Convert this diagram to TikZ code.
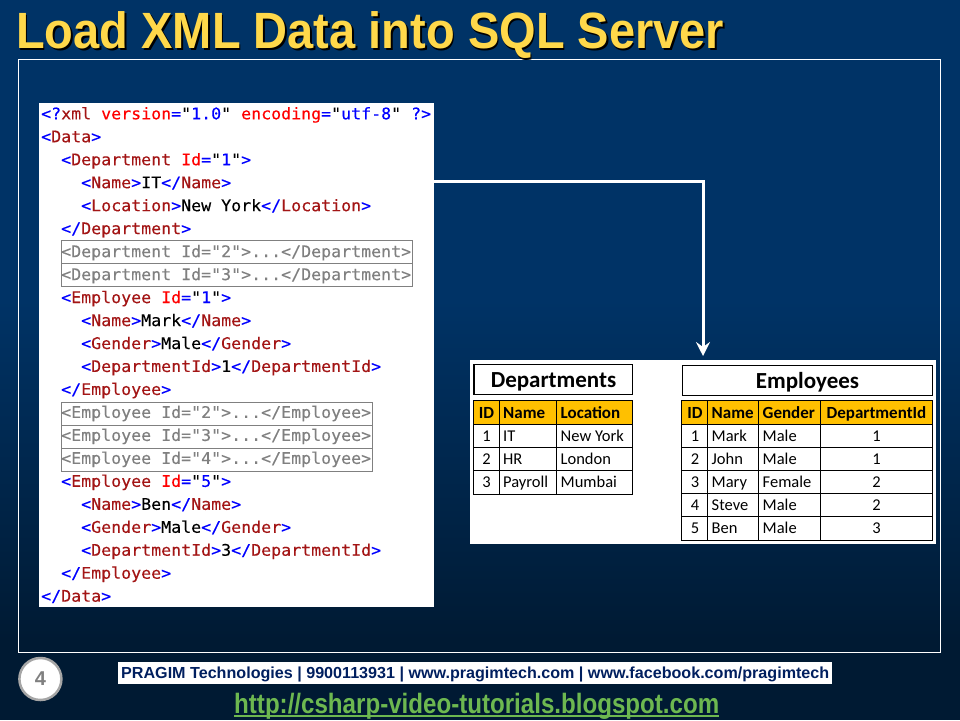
\documentclass[tikz,border=0pt]{standalone}
\usepackage{fontspec}
\usepackage{graphicx}
\usetikzlibrary{arrows.meta}
\setmainfont{Carlito}
\newfontfamily\xmlf[FakeStretch=1.038,FakeBold=0.25]{DejaVu Sans Mono}
\newfontfamily\arialb{Liberation Sans}[BoldFont={Liberation Sans Bold}]
\definecolor{bgtop}{HTML}{003366}
\definecolor{bgbot}{HTML}{001A33}
\definecolor{xbl}{HTML}{0000FF}
\definecolor{xbr}{HTML}{A31515}
\definecolor{xre}{HTML}{FF0000}
\definecolor{xgr}{HTML}{808080}
\definecolor{hdr}{HTML}{FFC000}
\definecolor{titley}{HTML}{FFD84A}
\definecolor{urlg}{HTML}{6DB850}
\definecolor{footb}{HTML}{001F5F}
\newcommand{\TG}[1]{\textcolor{xbl}{<}\textcolor{xbr}{#1}\textcolor{xbl}{>}}
\newcommand{\CT}[1]{\textcolor{xbl}{</}\textcolor{xbr}{#1}\textcolor{xbl}{>}}
\newcommand{\ID}[2]{\textcolor{xbl}{<}\textcolor{xbr}{#1} \textcolor{xre}{Id}\textcolor{xbl}{=}"\textcolor{xbl}{#2}"\textcolor{xbl}{>}}
\tikzset{
  xmlline/.style={anchor=base west,inner sep=0pt,font=\xmlf\fontsize{16}{16}\selectfont,text=black},
  xmlgray/.style={xmlline,text=xgr},
  graybox/.style={draw=xgr,line width=1pt},
  tcell/.style={anchor=base west,inner sep=0pt,font=\fontsize{16.5}{17}\selectfont,text=black},
  tcellc/.style={tcell,anchor=base},
  thead/.style={tcell,font=\fontsize{17}{18}\selectfont\bfseries},
  theadc/.style={thead,anchor=base},
  ttitle/.style={anchor=base,inner sep=0pt,font=\fontsize{23}{25}\selectfont\bfseries,text=black},
  grid/.style={draw=black,line width=1.2pt},
  conn/.style={draw=white,line width=3pt,-{Stealth[length=14pt,width=14pt,inset=5pt]}},
}
\begin{document}
\begin{tikzpicture}[x=1pt,y=-1pt]
\useasboundingbox (0,0) rectangle (960,720);
% background
\fill[bgtop] (0,0) rectangle (960,300);
\shade[top color=bgtop,bottom color=bgbot] (0,300) rectangle (960,640);
\fill[bgbot] (0,640) rectangle (960,720);
% frame
\draw[white,line width=1pt] (18.5,59.5) rectangle (940.5,652.5);
% title
\node[anchor=base west,inner sep=0pt,text=black,font=\arialb\fontsize{51}{52}\selectfont\bfseries] (titleshadow) at (17.5,50) {\resizebox{708pt}{\height}{Load XML Data into SQL Server}};
\node[anchor=base west,inner sep=0pt,text=titley,font=\arialb\fontsize{51}{52}\selectfont\bfseries] (title) at (16,48.5) {\resizebox{708pt}{\height}{Load XML Data into SQL Server}};
% xml panel
\node[fill=white,inner sep=0pt,minimum width=395pt,minimum height=504pt,anchor=north west] (xml) at (39,103) {};
\newcommand{\ly}[1]{119.3+22.97*(#1-1)}
\node[xmlline] (l1) at (41,{\ly{1}}) {\textcolor{xbl}{<?}\textcolor{xbr}{xml} \textcolor{xre}{version}\textcolor{xbl}{=}"\textcolor{xbl}{1.0}" \textcolor{xre}{encoding}\textcolor{xbl}{=}"\textcolor{xbl}{utf-8}" \textcolor{xbl}{?>}};
\node[xmlline] (l2) at (41,{\ly{2}}) {\TG{Data}};
\node[xmlline] (l3) at (61,{\ly{3}}) {\ID{Department}{1}};
\node[xmlline] (l4) at (81,{\ly{4}}) {\TG{Name}IT\CT{Name}};
\node[xmlline] (l5) at (81,{\ly{5}}) {\TG{Location}New York\CT{Location}};
\node[xmlline] (l6) at (61,{\ly{6}}) {\CT{Department}};
\node[xmlgray] (l7) at (61,{\ly{7}}) {<Department Id="2">...</Department>};
\node[xmlgray] (l8) at (61,{\ly{8}}) {<Department Id="3">...</Department>};
\node[xmlline] (l9) at (61,{\ly{9}}) {\ID{Employee}{1}};
\node[xmlline] (l10) at (81,{\ly{10}}) {\TG{Name}Mark\CT{Name}};
\node[xmlline] (l11) at (81,{\ly{11}}) {\TG{Gender}Male\CT{Gender}};
\node[xmlline] (l12) at (81,{\ly{12}}) {\TG{DepartmentId}1\CT{DepartmentId}};
\node[xmlline] (l13) at (61,{\ly{13}}) {\CT{Employee}};
\node[xmlgray] (l14) at (61,{\ly{14}}) {<Employee Id="2">...</Employee>};
\node[xmlgray] (l15) at (61,{\ly{15}}) {<Employee Id="3">...</Employee>};
\node[xmlgray] (l16) at (61,{\ly{16}}) {<Employee Id="4">...</Employee>};
\node[xmlline] (l17) at (61,{\ly{17}}) {\ID{Employee}{5}};
\node[xmlline] (l18) at (81,{\ly{18}}) {\TG{Name}Ben\CT{Name}};
\node[xmlline] (l19) at (81,{\ly{19}}) {\TG{Gender}Male\CT{Gender}};
\node[xmlline] (l20) at (81,{\ly{20}}) {\TG{DepartmentId}3\CT{DepartmentId}};
\node[xmlline] (l21) at (61,{\ly{21}}) {\CT{Employee}};
\node[xmlline] (l22) at (41,{\ly{22}}) {\CT{Data}};
\draw[graybox] (61.3,240.5) rectangle (412.3,286.5) (61.3,263.5) -- (412.3,263.5);
\draw[graybox] (61.3,402.5) rectangle (372.3,471) (61.3,425.3) -- (372.3,425.3) (61.3,448.2) -- (372.3,448.2);
% tables panel
\node[fill=white,inner sep=0pt,minimum width=466pt,minimum height=184pt,anchor=north west] (tables) at (470,360) {};
% departments
\draw[grid] (474,364.5) rectangle (632.5,394.5);
\node[ttitle] (dtitle) at (553.5,387) {Departments};
\fill[hdr] (473.5,400.7) rectangle (632.5,424.3);
\draw[grid] (473.5,400.7) rectangle (632.5,494.3);
\foreach \yy in {424.3,447.3,470.3} \draw[grid] (473.5,\yy) -- (632.5,\yy);
\foreach \xx in {499.3,556.3} \draw[grid] (\xx,400.7) -- (\xx,494.3);
\node[theadc] (dh1) at (486.5,418.5) {ID};
\node[thead] (dh2) at (503,418.5) {Name};
\node[thead] (dh3) at (560.5,418.5) {Location};
\foreach \n/\yy/\a/\b/\c in {1/441.8/1/IT/New York,2/464.8/2/HR/London,3/487.8/3/Payroll/Mumbai}{
  \node[tcellc] (da\n) at (486.5,\yy) {\a};
  \node[tcell] (db\n) at (503,\yy) {\b};
  \node[tcell] (dc\n) at (560.5,\yy) {\c};
}
% employees
\draw[grid] (682.3,365.5) rectangle (932.7,395.5);
\node[ttitle] (etitle) at (807.5,388) {Employees};
\fill[hdr] (681.7,400.7) rectangle (932.7,424.3);
\draw[grid] (681.7,400.7) rectangle (932.7,540.3);
\foreach \yy in {424.3,447.3,470.3,493.3,516.3} \draw[grid] (681.7,\yy) -- (932.7,\yy);
\foreach \xx in {707.7,758.3,820.3} \draw[grid] (\xx,400.7) -- (\xx,540.3);
\node[theadc] (eh1) at (695,418.5) {ID};
\node[thead] (eh2) at (711.5,418.5) {Name};
\node[thead] (eh3) at (762.5,418.5) {Gender};
\node[theadc] (eh4) at (876.5,418.5) {DepartmentId};
\foreach \n/\yy/\a/\b/\c/\d in {1/441.8/1/Mark/Male/1,2/464.8/2/John/Male/1,3/487.8/3/Mary/Female/2,4/510.8/4/Steve/Male/2,5/533.8/5/Ben/Male/3}{
  \node[tcellc] (ea\n) at (695,\yy) {\a};
  \node[tcell] (eb\n) at (711.5,\yy) {\b};
  \node[tcell] (ec\n) at (762.5,\yy) {\c};
  \node[tcellc] (ed\n) at (876.5,\yy) {\d};
}
% connector
\coordinate (cstart) at (xml.east |- 0,181);
\coordinate (cend) at (703,356);
\draw[conn] (cstart) -- (cstart -| cend) -- (cend);
% footer
\node[circle,fill=white,draw=xgr!70,line width=2.5pt,minimum size=42pt,inner sep=0pt,text=xgr,font=\arialb\fontsize{20}{21}\selectfont\bfseries] (pagenum) at (40.4,679) {4};
\node[fill=white,inner sep=0pt,minimum width=714pt,minimum height=22pt,anchor=north west] (footbox) at (118,662) {};
\node[anchor=base west,inner sep=0pt,text=footb,font=\arialb\fontsize{16}{17}\selectfont\bfseries] (foot) at (121,678) {\resizebox{708pt}{\height}{PRAGIM Technologies | 9900113931 | www.pragimtech.com | www.facebook.com/pragimtech}};
\node[anchor=base west,inner sep=0pt,text=urlg,font=\arialb\fontsize{28}{29}\selectfont\bfseries] (url) at (234,713) {\resizebox{485pt}{\height}{http://csharp-video-tutorials.blogspot.com}};
\draw[urlg,line width=1.6pt] (url.base west) ++(0,3) -- ++(485,0);
\end{tikzpicture}
\end{document}
